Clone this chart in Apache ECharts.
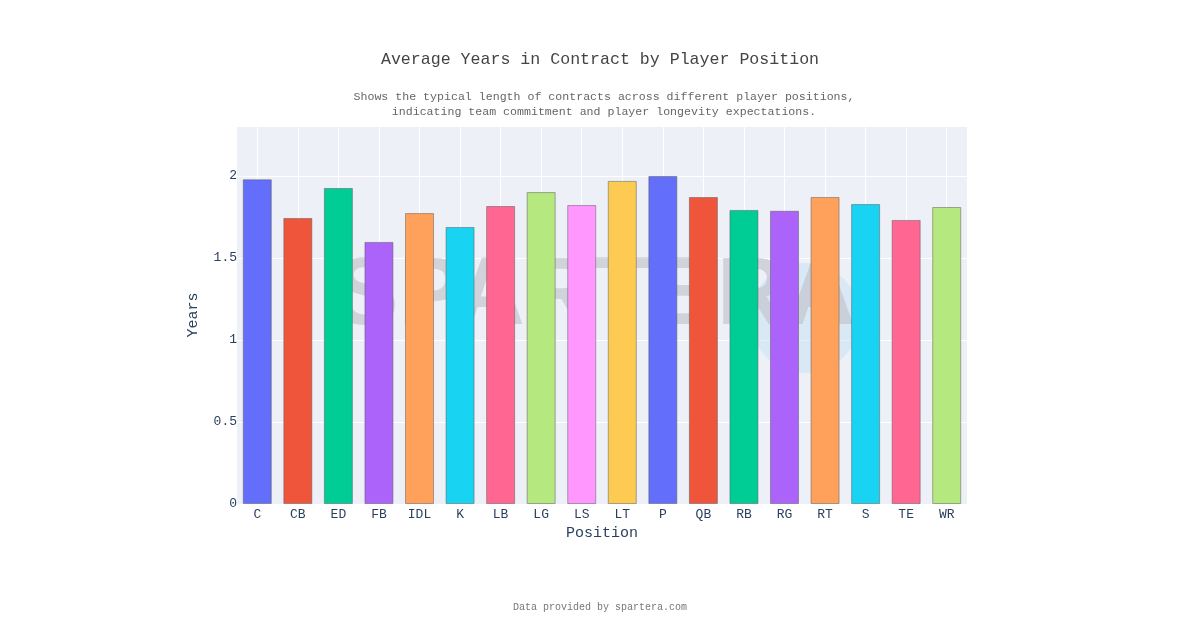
<!DOCTYPE html>
<html>
<head>
	<meta charset="UTF-8">
	<title>Average Years in Contract</title>
	<script src="https://cdn.jsdelivr.net/npm/echarts@6/dist/echarts.min.js"></script>
	<style>
		body { margin: 0; background: #fff; }
		#chart { width: 1200px; height: 630px; }
	</style>
</head>
<body>
	<div id="chart"></div>
	<script>
		// positions and average contract years
		var positions = ['C', 'CB', 'ED', 'FB', 'IDL', 'K', 'LB', 'LG', 'LS', 'LT', 'P', 'QB', 'RB', 'RG', 'RT', 'S', 'TE', 'WR'];
		var years = [1.98, 1.744, 1.927, 1.598, 1.774, 1.689, 1.817, 1.902, 1.823, 1.97, 2.0, 1.872, 1.793, 1.788, 1.872, 1.829, 1.732, 1.811];
		var palette = ['#636efa', '#EF553B', '#00cc96', '#ab63fa', '#FFA15A', '#19d3f3', '#FF6692', '#B6E880', '#FF97FF', '#FECB52'];
		var yTicks = [0, 0.5, 1, 1.5, 2];

		var mono = '"Liberation Mono", "DejaVu Sans Mono", monospace';

		// helper axis: 2*n+1 points so the odd ones sit at bar centres (vertical grid lines)
		var gridPts = [];
		for (var i = 0; i <= positions.length * 2; i++) gridPts.push(i);

		var chart = echarts.init(document.getElementById('chart'), null, { renderer: 'canvas' });
		chart.setOption({
			backgroundColor: '#ffffff',
			title: [
				{
					text: 'Average Years in Contract by Player Position',
					left: 'center', top: 46,
					textStyle: { fontFamily: mono, fontSize: 16.6, fontWeight: 'normal', color: '#444' }
				},
				{
					text: 'Data provided by spartera.com',
					left: 'center', top: 597,
					textStyle: { fontFamily: mono, fontSize: 10, fontWeight: 'normal', color: '#777' }
				}
			],
			grid: { left: 237, right: 233, top: 126, bottom: 126, show: true, backgroundColor: '#eef0f8', borderWidth: 0 },
			graphic: [
				{
					type: 'text', z: 10, silent: true,
					x: 604, y: 89,
					style: {
						text: 'Shows the typical length of contracts across different player positions,\nindicating team commitment and player longevity expectations.',
						fill: '#666', align: 'center', verticalAlign: 'top', lineHeight: 15,
						font: '11.6px "Liberation Mono", monospace'
					}
				},
				{
					type: 'circle', z: 1, silent: true,
					shape: { cx: 805, cy: 318, r: 55 },
					style: { fill: 'rgba(200,225,242,0.55)' }
				},
				{
					type: 'text', z: 1, silent: true,
					x: 595, y: 298,
					style: {
						text: 'SPARTERA', fill: 'rgba(190,192,200,0.6)',
						align: 'center', verticalAlign: 'middle',
						font: 'bold 96px "Liberation Sans", Arial, sans-serif'
					}
				}
			],
			xAxis: [
				{
					type: 'category',
					data: positions,
					name: 'Position',
					nameLocation: 'middle',
					nameGap: 21,
					nameTextStyle: { fontFamily: mono, fontSize: 15, color: '#2a3f5f' },
					axisLine: { show: false },
					axisTick: { show: false },
					axisLabel: { fontFamily: mono, fontSize: 13, color: '#2a3f5f', margin: 4 },
					splitLine: { show: false }
				},
				{
					type: 'category',
					data: gridPts,
					boundaryGap: false,
					position: 'bottom',
					show: true,
					axisLine: { show: false },
					axisTick: { show: false },
					axisLabel: { show: false },
					splitLine: {
						show: true,
						interval: function (index) { return index % 2 === 1; },
						lineStyle: { color: '#ffffff', width: 1 }
					}
				}
			],
			yAxis: {
				type: 'value',
				min: 0, max: 2.305, interval: 0.5,
				name: 'Years',
				nameLocation: 'middle',
				nameGap: 36,
				nameTextStyle: { fontFamily: mono, fontSize: 15, color: '#2a3f5f' },
				axisLine: { show: false },
				axisTick: { show: false },
				axisLabel: {
					fontFamily: mono, fontSize: 13, color: '#2a3f5f', margin: 0,
					showMaxLabel: false,
					formatter: function (v) { return yTicks.indexOf(v) >= 0 ? String(v) : ''; }
				},
				splitLine: { lineStyle: { color: '#ffffff', width: 1 } }
			},
			series: [{
				type: 'bar',
				xAxisIndex: 0,
				z: 3,
				barWidth: 29,
				data: years.map(function (v, i) {
					return {
						value: v,
						itemStyle: { color: palette[i % palette.length], borderColor: 'rgba(90,90,90,0.5)', borderWidth: 1 }
					};
				})
			}]
		});
	</script>
</body>
</html>
